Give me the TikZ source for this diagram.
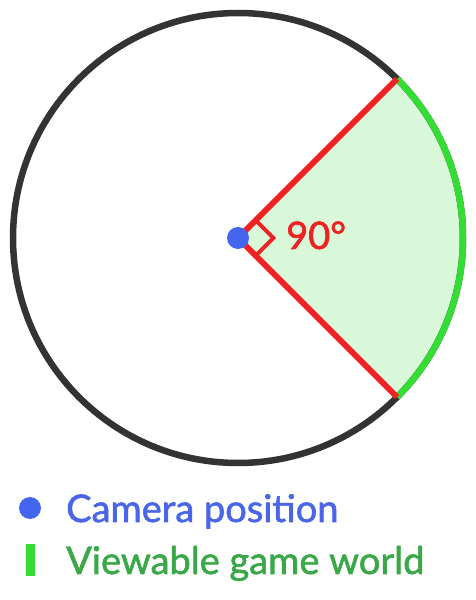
\documentclass[tikz,border=0pt]{standalone}
\usepackage{fontspec}
\setmainfont{Lato}
\newfontfamily\lblfont{Lato}[FakeBold=1.6]
\definecolor{ringgray}{HTML}{333333}
\definecolor{rayred}{HTML}{EE2222}
\definecolor{arcgreen}{HTML}{33DD33}
\definecolor{wedgefill}{HTML}{D9F7D9}
\definecolor{camblue}{HTML}{4466EE}
\definecolor{txtblue}{HTML}{4A66E8}
\definecolor{txtgreen}{HTML}{3AA848}
\begin{document}
\begin{tikzpicture}[x=1pt,y=1pt,
  ring/.style={draw=ringgray,line width=6.5pt},
  ray/.style={draw=rayred,line width=6pt},
  viewarc/.style={draw=arcgreen,line width=6.5pt},
  marker/.style={draw=rayred,line width=4pt},
  lbl/.style={inner sep=0pt,anchor=base west,font=\lblfont\fontsize{38}{44}\selectfont}]
\useasboundingbox (0,0) rectangle (476,600);
\coordinate (c) at (238,362);
\coordinate (e1) at (397.1,521.1);
\coordinate (e2) at (397.1,202.9);
\coordinate (m1) at (255.7,379.7);
\coordinate (m2) at (255.7,344.3);
\coordinate (mt) at (273.4,362);
% wedge fill
\fill[wedgefill] (c) -- (e2) arc[start angle=-45,end angle=45,radius=225] -- cycle;
% ring
\draw[ring] (c) circle[radius=225];
% green arc
\draw[viewarc] (e2) arc[start angle=-45,end angle=45,radius=225];
% rays
\draw[ray] (e1) -- (c) -- (e2);
% right-angle marker
\draw[marker] (m1) -- (mt) -- (m2);
% camera dot
\fill[camblue] (c) circle[radius=11];
\node[lbl,text=rayred] (ang) at (286,351) {90°};
% legend
\fill[camblue] (30,92) circle[radius=11];
\node[lbl,text=txtblue] (l1) at (66,78) {Camera position};
\fill[arcgreen] (26,24) rectangle (34.5,56);
\node[lbl,text=txtgreen] (l2) at (66,26) {Viewable game world};
\end{tikzpicture}
\end{document}
